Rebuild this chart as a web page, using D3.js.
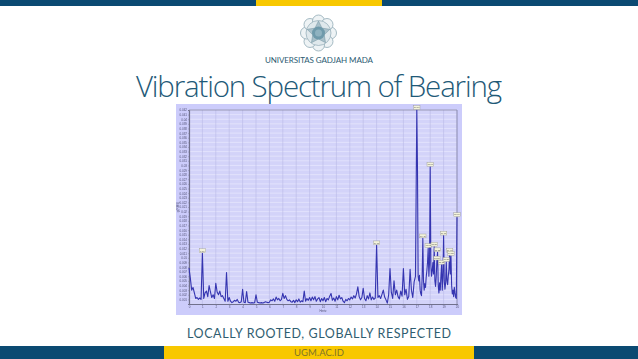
<!DOCTYPE html>
<html>
<head>
<meta charset="utf-8">
<script src="https://cdn.jsdelivr.net/npm/d3@7/dist/d3.min.js"></script>
<style>
    html, body { margin: 0; padding: 0; background: #fff; }
    svg { display: block; }
</style>
</head>
<body>
<svg id="chart"></svg>
<script>
// spectrum, 0.1 Hz steps up to 16.9
const hzLow = [
    0, 0.1, 0.2, 0.3, 0.4, 0.5, 0.6, 0.7, 0.8, 0.9,
    1, 1.1, 1.2, 1.3, 1.4, 1.5, 1.6, 1.7, 1.8, 1.9,
    2, 2.1, 2.2, 2.3, 2.4, 2.5, 2.6, 2.7, 2.8, 2.9,
    3, 3.1, 3.2, 3.3, 3.4, 3.5, 3.6, 3.7, 3.8, 3.9,
    4, 4.1, 4.2, 4.3, 4.4, 4.5, 4.6, 4.7, 4.8, 4.9,
    5, 5.1, 5.2, 5.3, 5.4, 5.5, 5.6, 5.7, 5.8, 5.9,
    6, 6.1, 6.2, 6.3, 6.4, 6.5, 6.6, 6.7, 6.8, 6.9,
    7, 7.1, 7.2, 7.3, 7.4, 7.5, 7.6, 7.7, 7.8, 7.9,
    8, 8.1, 8.2, 8.3, 8.4, 8.5, 8.6, 8.7, 8.8, 8.9,
    9, 9.1, 9.2, 9.3, 9.4, 9.5, 9.6, 9.7, 9.8, 9.9,
    10, 10.1, 10.2, 10.3, 10.4, 10.5, 10.6, 10.7, 10.8, 10.9,
    11, 11.1, 11.2, 11.3, 11.4, 11.5, 11.6, 11.7, 11.8, 11.9,
    12, 12.1, 12.2, 12.3, 12.4, 12.5, 12.6, 12.7, 12.8, 12.9,
    13, 13.1, 13.2, 13.3, 13.4, 13.5, 13.6, 13.7, 13.8, 13.9,
    14, 14.1, 14.2, 14.3, 14.4, 14.5, 14.6, 14.7, 14.8, 14.9,
    15, 15.1, 15.2, 15.3, 15.4, 15.5, 15.6, 15.7, 15.8, 15.9,
    16, 16.1, 16.2, 16.3, 16.4, 16.5, 16.6, 16.7, 16.8, 16.9
];
const ampLow = [
    .0078, .0056, .0030, .0036, .0024, .0012, .0014, .0010, .0013, .0010,
    .0110, .0012, .0024, .0028, .0016, .0040, .0026, .0014, .0020, .0012,
    .0045, .0026, .0020, .0028, .0016, .0018, .0012, .0006, .0068, .0006,
    .0014, .0006, .0003, .0005, .0008, .0006, .0010, .0004, .0003, .0005,
    .0032, .0004, .0003, .0027, .0004, .0003, .0002, .0003, .0002, .0003,
    .0020, .0004, .0003, .0002, .0003, .0002, .0003, .0005, .0004, .0003,
    .0004, .0009, .0007, .0011, .0006, .0015, .0009, .0012, .0007, .0010,
    .0023, .0012, .0018, .0010, .0007, .0009, .0005, .0004, .0008, .0003,
    .0009, .0005, .0011, .0004, .0007, .0005, .0028, .0006, .0012, .0008,
    .0014, .0007, .0015, .0009, .0016, .0006, .0011, .0014, .0005, .0012,
    .0007, .0014, .0005, .0012, .0009, .0017, .0023, .0008, .0013, .0006,
    .0016, .0009, .0019, .0011, .0014, .0006, .0003, .0010, .0007, .0012,
    .0009, .0015, .0011, .0018, .0013, .0022, .0037, .0016, .0009, .0014,
    .0034, .0012, .0007, .0018, .0011, .0024, .0009, .0015, .0010, .0013,
    .0127, .0014, .0018, .0012, .0021, .0030, .0015, .0009, .0002, .0020,
    .0077, .0025, .0012, .0050, .0020, .0030, .0016, .0011, .0028, .0017,
    .0077, .0020, .0032, .0010, .0016, .0075, .0030, .0014, .0048, .0060
];

// the crowded end of the spectrum, 0.05 Hz steps
const hzHigh = [
    17, 17.05, 17.1, 17.15, 17.2, 17.25, 17.3, 17.35, 17.4, 17.45,
    17.5, 17.55, 17.6, 17.65, 17.7, 17.75, 17.8, 17.85, 17.9, 17.95,
    18, 18.05, 18.1, 18.15, 18.2, 18.25, 18.3, 18.35, 18.4, 18.45,
    18.5, 18.55, 18.6, 18.65, 18.7, 18.75, 18.8, 18.85, 18.9, 18.95,
    19, 19.05, 19.1, 19.15, 19.2, 19.25, 19.3, 19.35, 19.4, 19.45,
    19.5, 19.55, 19.6, 19.65, 19.7, 19.75, 19.8, 19.85, 19.9, 19.95, 20
];
const ampHigh = [
    .0420, .0296, .0060, .0050, .0062, .0030, .0022, .0018, .0060, .0142,
    .0050, .0030, .0044, .0036, .0058, .0072, .0090, .0121, .0060, .0090,
    .0297, .0085, .0060, .0072, .0090, .0065, .0124, .0050, .0038, .0060,
    .0094, .0112, .0040, .0024, .0046, .0030, .0060, .0085, .0030, .0060,
    .0148, .0050, .0032, .0045, .0091, .0050, .0042, .0060, .0075, .0111,
    .0065, .0104, .0040, .0022, .0030, .0016, .0036, .0024, .0014, .0012, .0188
];

// peaks that carry a little callout box
const peakHz = [1, 14, 17, 17.45, 17.85, 18, 18.3, 18.5, 18.55, 18.85, 19, 19.2, 19.45, 19.55, 20];

const xTicks = [0, 1, 2, 3, 4, 5, 6, 7, 8, 9, 10, 11, 12, 13, 14, 15, 16, 17, 18, 19, 20];
const yTicks = [
    .001, .002, .003, .004, .005, .006, .007, .008, .009, .01,
    .011, .012, .013, .014, .015, .016, .017, .018, .019, .02,
    .021, .022, .023, .024, .025, .026, .027, .028, .029, .03,
    .031, .032, .033, .034, .035, .036, .037, .038, .039, .04,
    .041, .042
];

const width = 638, height = 359;
const navy = '#0b4a72', gold = '#f8c800', ink = '#1f5a78';
const plot = { left: 189, right: 457, top: 110, bottom: 304 };

const svg = d3.select('#chart').attr('width', width).attr('height', height);

// slide furniture
svg.append('rect').attr('width', width).attr('height', 6).attr('fill', navy);
svg.append('rect').attr('x', 256).attr('width', 126).attr('height', 6).attr('fill', gold);
svg.append('rect').attr('y', 346).attr('width', width).attr('height', 13).attr('fill', navy);
svg.append('rect').attr('x', 164).attr('y', 346).attr('width', 310).attr('height', 13).attr('fill', gold);

// logo rosette
const logo = svg.append('g').attr('transform', 'translate(318.5,33)');
d3.range(8).forEach(i => {
    const a = i / 8 * 2 * Math.PI;
    logo.append('circle')
        .attr('cx', 12 * Math.cos(a)).attr('cy', 12 * Math.sin(a)).attr('r', 6)
        .attr('fill', '#eef3f5').attr('stroke', '#8fa9b5').attr('stroke-width', 0.8);
});
logo.append('circle').attr('r', 12.5).attr('fill', '#dfe8ec').attr('stroke', '#8fa9b5').attr('stroke-width', 0.7);
logo.append('path')
    .attr('d', d3.range(10).map((i) => {
        const a = i / 10 * 2 * Math.PI - Math.PI / 2, r = i % 2 ? 6 : 12;
        return (i ? 'L' : 'M') + r * Math.cos(a) + ',' + r * Math.sin(a);
    }).join('') + 'Z')
    .attr('fill', '#a9c0ca').attr('stroke', '#6f919f').attr('stroke-width', 0.5);
logo.append('circle').attr('r', 6.5).attr('fill', '#6f9aab');
logo.append('circle').attr('r', 3.5).attr('fill', '#8fb2c0');

svg.append('text').attr('x', 319).attr('y', 62.5).attr('text-anchor', 'middle')
    .attr('font-family', 'Lato').attr('font-size', 8).attr('fill', '#2c5b72')
    .attr('textLength', 108).text('UNIVERSITAS GADJAH MADA');

svg.append('text').attr('x', 319).attr('y', 97).attr('text-anchor', 'middle')
    .attr('font-family', 'Open Sans').attr('font-weight', 300).attr('font-size', 29.5)
    .attr('fill', ink).attr('textLength', 366).text('Vibration Spectrum of Bearing');

svg.append('text').attr('x', 319).attr('y', 338).attr('text-anchor', 'middle')
    .attr('font-family', 'Lato').attr('font-size', 12.5).attr('fill', '#2f5d70')
    .attr('textLength', 264).text('LOCALLY ROOTED, GLOBALLY RESPECTED');

svg.append('text').attr('x', 319).attr('y', 356).attr('text-anchor', 'middle')
    .attr('font-family', 'Lato').attr('font-size', 9.5).attr('fill', '#7f7428')
    .attr('textLength', 50).text('UGM.AC.ID');

// chart panel
svg.append('defs').append('filter').attr('id', 'soft')
    .append('feGaussianBlur').attr('stdDeviation', 0.35);
const chart = svg.append('g').attr('filter', 'url(#soft)');

chart.append('rect')
    .attr('x', 176).attr('y', 104).attr('width', 286).attr('height', 211)
    .attr('fill', '#ccccfb');
chart.append('rect')
    .attr('x', plot.left).attr('y', plot.top)
    .attr('width', plot.right - plot.left).attr('height', plot.bottom - plot.top)
    .attr('fill', '#d3d3f9');

const x = d3.scaleLinear().domain([0, 20]).range([plot.left, plot.right]);
const y = d3.scaleLinear().domain([0, 0.042]).range([plot.bottom, plot.top]);

// grid
chart.append('g').selectAll('line').data(yTicks).enter().append('line')
    .attr('x1', plot.left).attr('x2', plot.right)
    .attr('y1', d => y(d)).attr('y2', d => y(d))
    .attr('stroke', '#e6e6fd').attr('stroke-width', 0.8);
chart.append('g').selectAll('line').data(xTicks).enter().append('line')
    .attr('y1', plot.top).attr('y2', plot.bottom)
    .attr('x1', d => x(d)).attr('x2', d => x(d))
    .attr('stroke', '#b9b9e6').attr('stroke-width', 0.6);

// axes
const yAxis = chart.append('g')
    .attr('transform', `translate(${plot.left},0)`)
    .call(d3.axisLeft(y).tickValues(yTicks).tickSize(1).tickPadding(1).tickFormat(d => String(+d.toFixed(3))));
const xAxis = chart.append('g')
    .attr('transform', `translate(0,${plot.bottom})`)
    .call(d3.axisBottom(x).tickValues(xTicks).tickSize(1).tickPadding(1).tickFormat(d3.format('d')));
[yAxis, xAxis].forEach(axis => {
    axis.selectAll('text').attr('font-size', 3).attr('font-family', 'Liberation Sans').attr('fill', '#55557a');
    axis.selectAll('.tick line').attr('stroke', '#77778f').attr('stroke-width', 0.4);
    axis.select('.domain').attr('stroke', '#70708c').attr('stroke-width', 1.2);
});

// far edges of the plot frame
chart.append('path')
    .attr('d', `M${plot.left},${plot.top}H${plot.right}V${plot.bottom}`)
    .attr('fill', 'none').attr('stroke', '#8b8bad').attr('stroke-width', 0.9);

// axis titles
chart.append('text')
    .attr('transform', `translate(178.5,207) rotate(-90)`)
    .attr('text-anchor', 'middle').attr('font-size', 3).attr('font-family', 'Liberation Sans')
    .attr('fill', '#55557a').text('g(RMS)');
chart.append('text')
    .attr('x', 323).attr('y', 312).attr('text-anchor', 'middle')
    .attr('font-size', 3).attr('font-family', 'Liberation Sans')
    .attr('fill', '#55557a').text('Hertz');

// spectrum trace
const hz = hzLow.concat(hzHigh);
const amp = ampLow.concat(ampHigh);
const line = d3.line().x((d, i) => x(hz[i])).y(d => y(d));
chart.append('path').datum(amp)
    .attr('d', line)
    .attr('fill', 'none').attr('stroke', '#3535b0').attr('stroke-width', 1.1).attr('stroke-linejoin', 'round');

// callouts
const callouts = chart.append('g').selectAll('g').data(peakHz).enter().append('g')
    .attr('transform', d => `translate(${x(d)},${y(amp[hz.indexOf(d)]) - 2.5})`);
callouts.append('rect')
    .attr('x', -3.2).attr('y', -1.9).attr('width', 6.4).attr('height', 3.8)
    .attr('fill', '#f3f3dc').attr('stroke', '#9a9a90').attr('stroke-width', 0.4);
callouts.append('text')
    .attr('text-anchor', 'middle').attr('y', 0.8)
    .attr('font-size', 2.2).attr('font-family', 'Liberation Sans').attr('fill', '#555')
    .text(d => d.toFixed(2));
</script>
</body>
</html>
